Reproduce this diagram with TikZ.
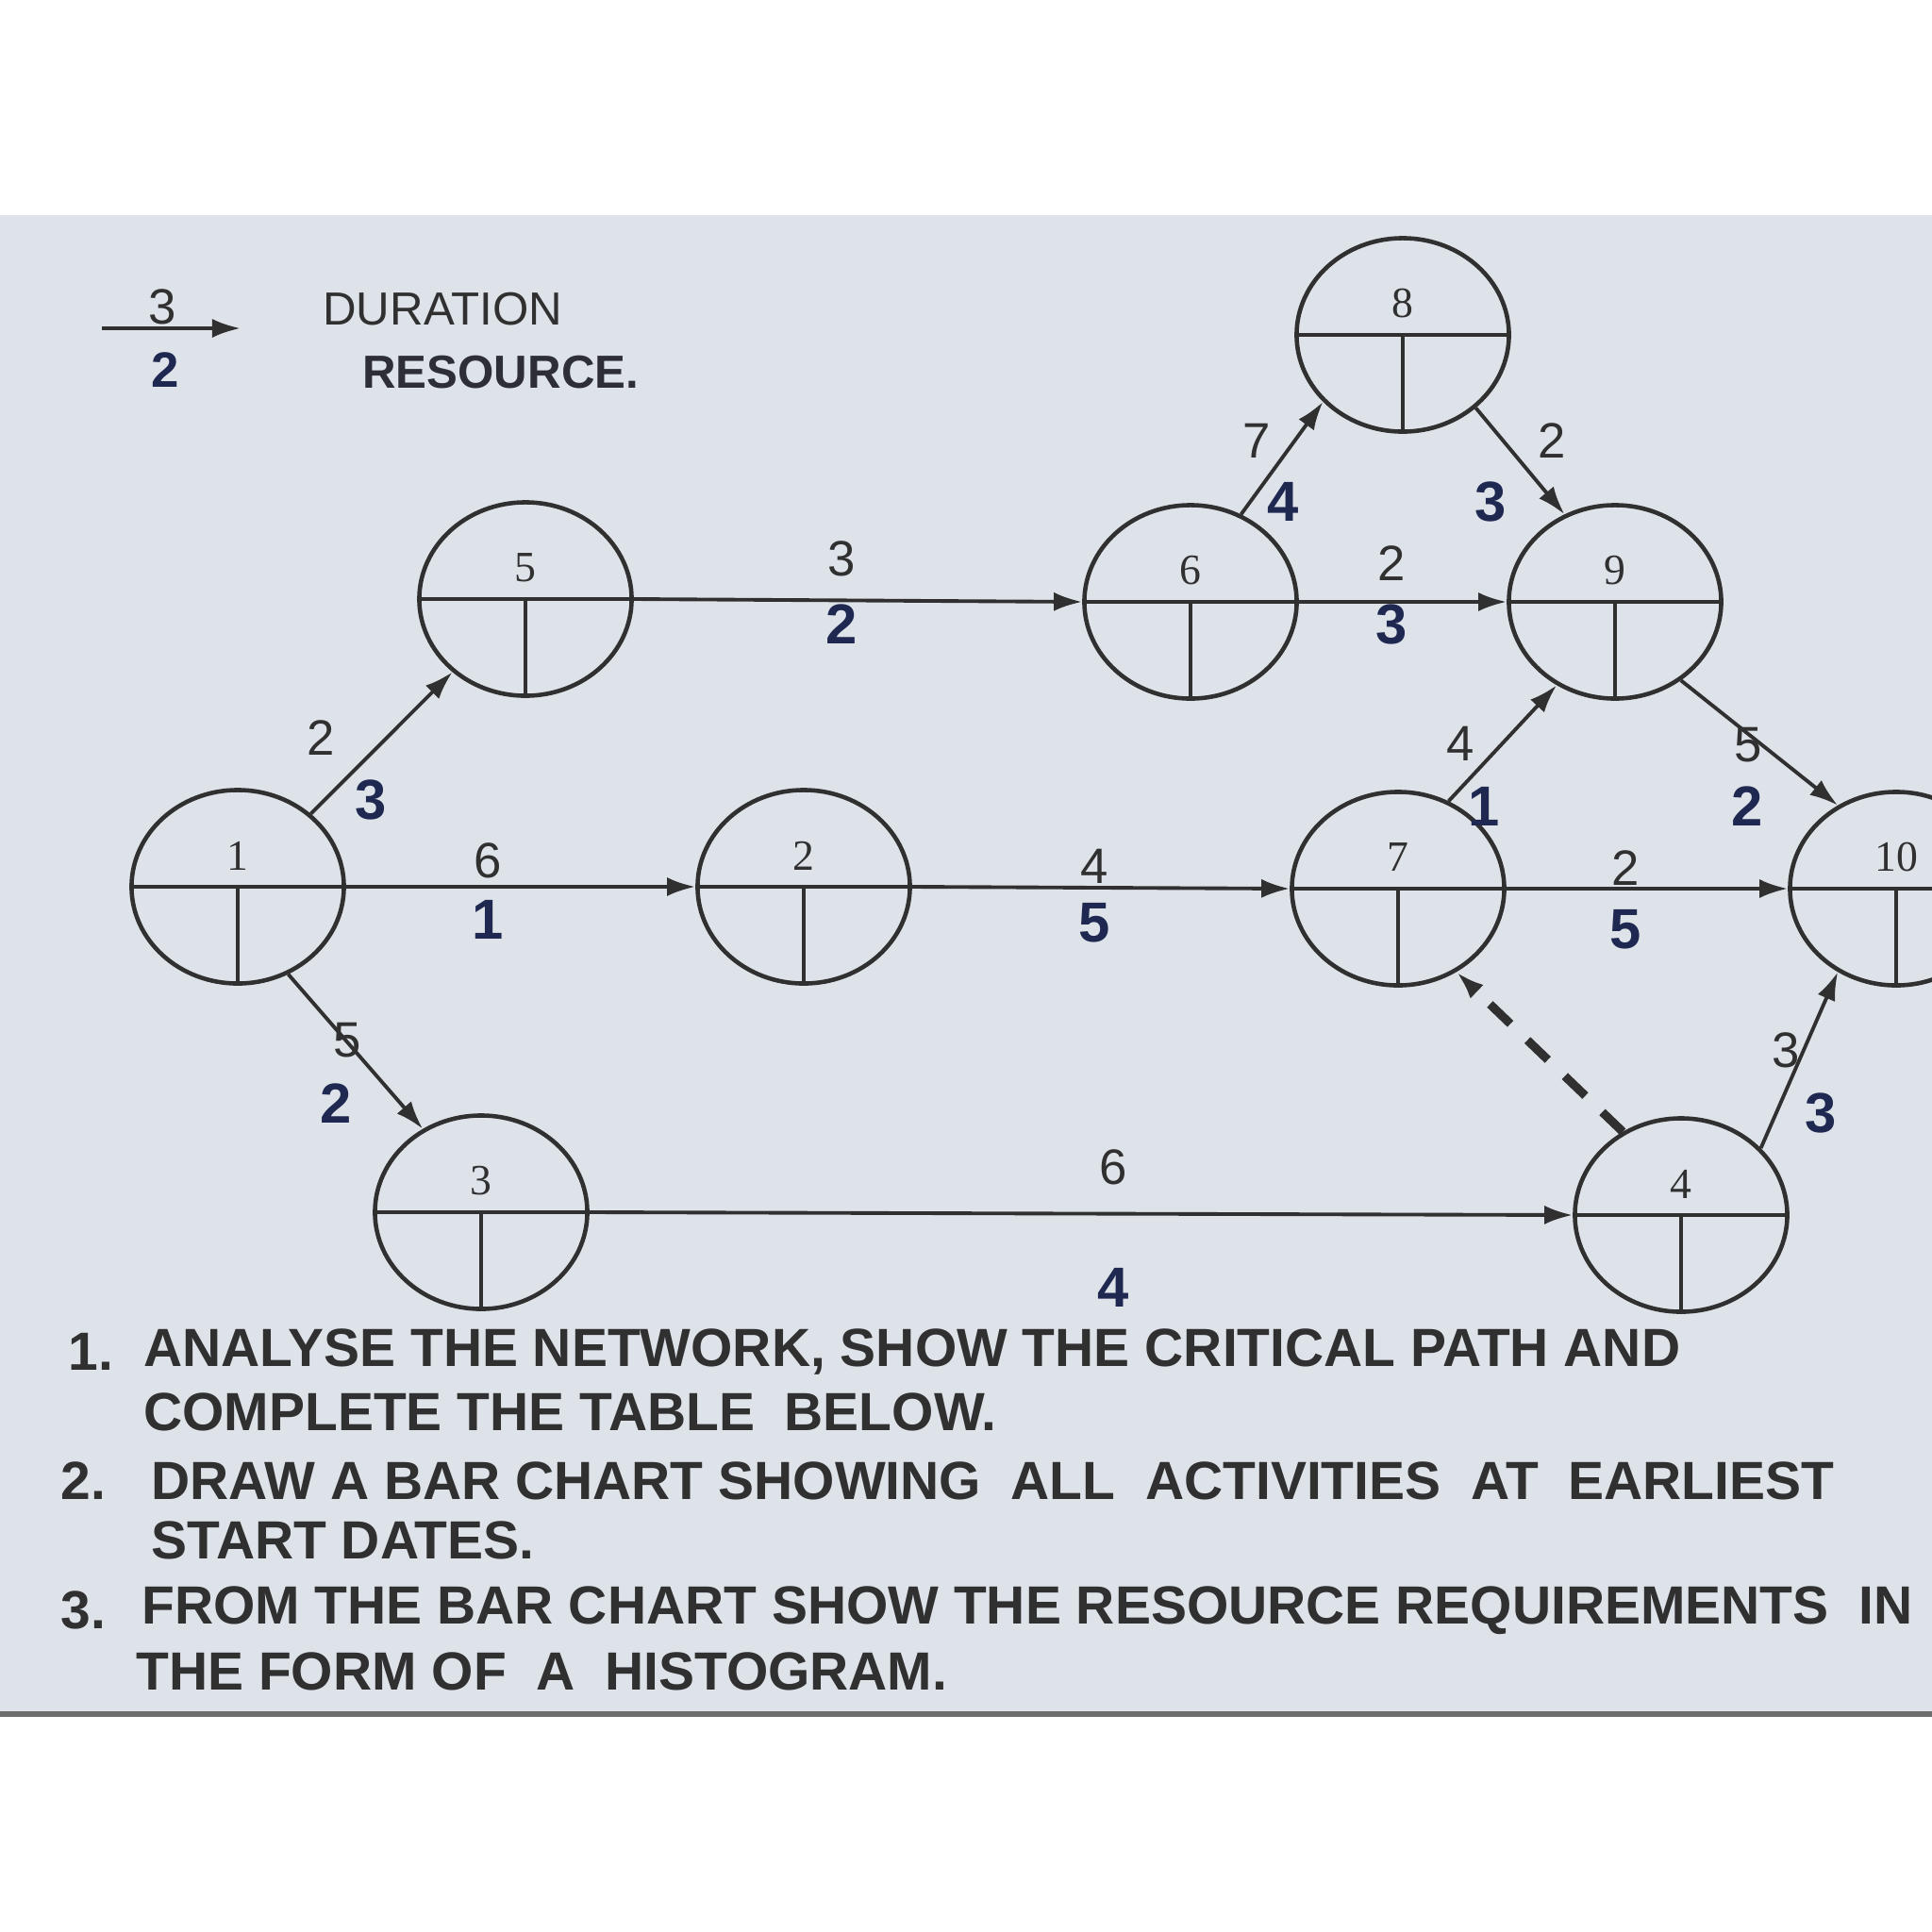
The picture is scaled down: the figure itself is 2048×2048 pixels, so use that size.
\documentclass[tikz,border=0pt]{standalone}
\usepackage{fontspec}
\setmainfont{Liberation Sans}
\newfontfamily\serifnum{Liberation Serif}
\usetikzlibrary{shapes.geometric,arrows.meta}
\definecolor{scr}{HTML}{DEE3EA}
\definecolor{ink}{HTML}{303030}
\definecolor{res}{HTML}{1F2850}
\tikzset{
 ev/.style={ellipse,draw=ink,line width=1.3pt,inner sep=0pt,minimum width=2.25cm,minimum height=2.05cm},
 con/.style={draw=ink,line width=1.1pt,-{Latex[length=0.3cm,width=0.2cm]}},
 dur/.style={text=ink,font=\fontsize{15}{16}\selectfont},
 rsc/.style={text=res,font=\fontsize{17}{18}\selectfont\bfseries},
 num/.style={text=ink,font=\serifnum\fontsize{13}{14}\selectfont},
 q/.style={anchor=west,text=ink,font=\fontsize{16.2}{17}\selectfont\bfseries}
}
\newcommand{\evt}[4]{%
 \node[ev] (#1) at (#2,#3) {};
 \draw[ink,line width=1.2pt] (#1.west)--(#1.east) (#1.center)--(#1.south);
 \node[num] at ([yshift=0.33cm]#1.center) {#4};}
\begin{document}
\begin{tikzpicture}[x=0.01cm,y=-0.01cm]
\useasboundingbox (0,0) rectangle (2048,2048);
\fill[white] (0,0) rectangle (2048,2048);
\fill[scr] (0,228) rectangle (2048,1818);
\fill[ink!70] (0,1814) rectangle (2048,1820);
% legend
\coordinate (la) at (108,348); \coordinate (lb) at (255,348);
\draw[con] (la)--(lb);
\node[dur] at (172,325) {3};
\node[rsc,font=\fontsize{15}{16}\selectfont\bfseries] at (175,392) {2};
\node[dur,anchor=west,font=\fontsize{14}{15}\selectfont] at (330,328) {DURATION};
\node[anchor=west,text=ink!80!res,font=\fontsize{14}{15}\selectfont\bfseries] at (372,395) {RESOURCE.};
% events
\evt{n8}{1487}{355}{8}
\evt{n5}{557}{635}{5}
\evt{n6}{1262}{638}{6}
\evt{n9}{1712}{638}{9}
\evt{n1}{252}{940}{1}
\evt{n2}{852}{940}{2}
\evt{n7}{1482}{942}{7}
\evt{n10}{2010}{942}{10}
\evt{n3}{510}{1285}{3}
\evt{n4}{1782}{1288}{4}
% activities
\draw[con] (n5.east)--(n6.west);
\node[dur] at (892,592) {3}; \node[rsc] at (892,662) {2};
\draw[con] (n6.east)--(n9.west);
\node[dur] at (1475,597) {2}; \node[rsc] at (1475,662) {3};
\draw[con] (n6.60)--(n8.220);
\node[dur] at (1332,467) {7}; \node[rsc] at (1360,532) {4};
\draw[con] (n8.315)--(n9.120);
\node[dur] at (1645,467) {2}; \node[rsc] at (1580,532) {3};
\draw[con] (n1.45)--(n5.225);
\node[dur] at (340,782) {2}; \node[rsc] at (393,848) {3};
\draw[con] (n1.east)--(n2.west);
\node[dur] at (517,912) {6}; \node[rsc] at (517,975) {1};
\draw[con] (n2.east)--(n7.west);
\node[dur] at (1160,918) {4}; \node[rsc] at (1160,978) {5};
\draw[con] (n7.60)--(n9.235);
\node[dur] at (1548,788) {4}; \node[rsc] at (1573,855) {1};
\draw[con] (n9.310)--(n10.125);
\node[dur] at (1853,790) {5}; \node[rsc] at (1852,855) {2};
\draw[con] (n7.east)--(n10.west);
\node[dur] at (1723,920) {2}; \node[rsc] at (1723,985) {5};
\draw[con] (n1.300)--(n3.125);
\node[dur] at (368,1103) {5}; \node[rsc] at (356,1170) {2};
\draw[con] (n3.east)--(n4.west);
\node[dur] at (1180,1237) {6}; \node[rsc] at (1180,1365) {4};
\draw[con] (n4.40)--(n10.235);
\node[dur] at (1893,1113) {3}; \node[rsc] at (1930,1180) {3};
\draw[con,line width=2.6pt,dash pattern=on 0.3cm off 0.25cm] (n4.125)--(n7.305);
% questions
\node[q] at (60,1433) {1.};
\node[q] at (140,1433) {ANALYSE THE NETWORK, SHOW THE CRITICAL PATH AND};
\node[q] at (140,1497) {COMPLETE THE TABLE\ \ BELOW.};
\node[q] at (52,1570) {2.};
\node[q] at (148,1570) {DRAW A BAR CHART SHOWING\ \ ALL\ \ ACTIVITIES\ \ AT\ \ EARLIEST};
\node[q] at (148,1633) {START DATES.};
\node[q] at (52,1707) {3.};
\node[q] at (138,1707) {FROM THE BAR CHART SHOW THE RESOURCE REQUIREMENTS\ \ IN};
\node[q] at (132,1772) {THE FORM OF\ \ A\ \ HISTOGRAM.};
\node[num,anchor=west] at (2032,1755) {1};
\end{tikzpicture}
\end{document}
